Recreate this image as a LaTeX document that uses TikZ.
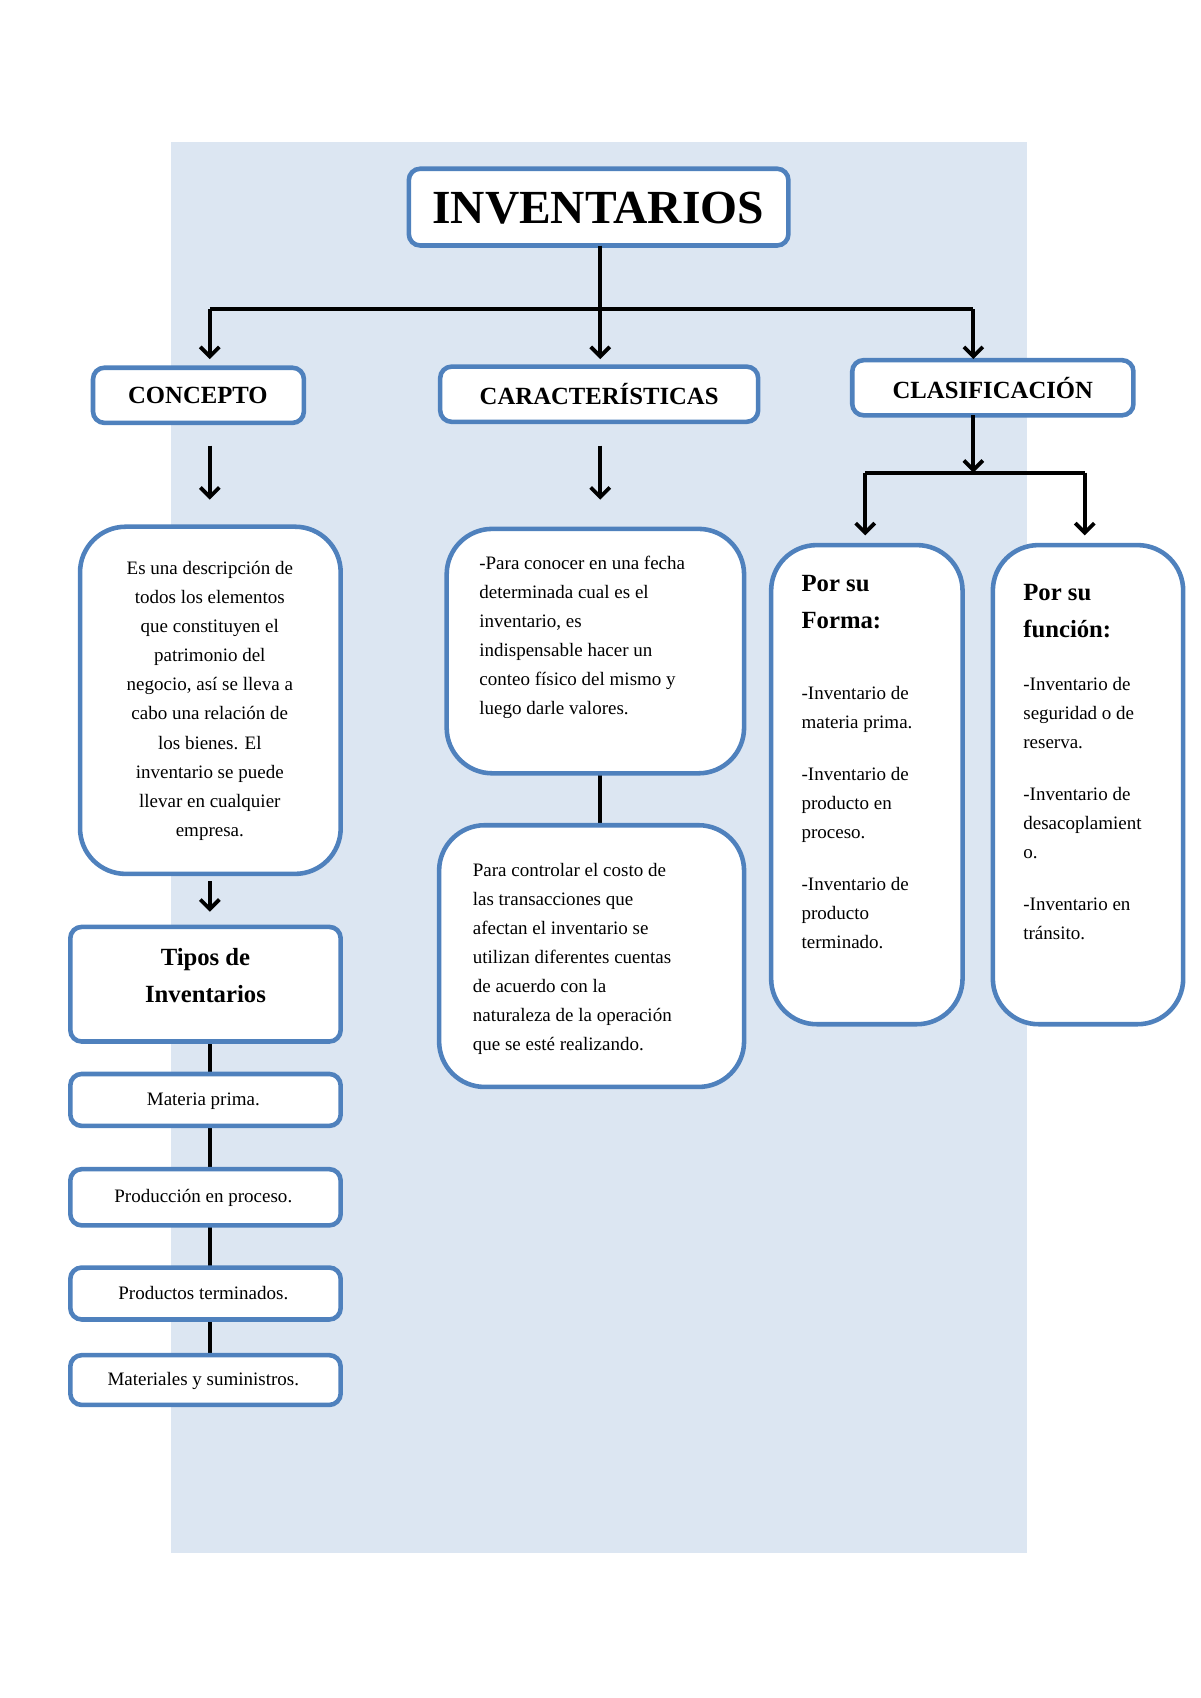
\documentclass[tikz,border=0pt]{standalone}
\usepackage{fontspec}
\setmainfont{Liberation Serif}
\usetikzlibrary{arrows.meta}
\definecolor{bx}{RGB}{79,129,189}
\definecolor{bgc}{RGB}{220,230,242}
\tikzset{
 bxs/.style={draw=bx,line width=2.4pt,fill=white,rounded corners=6pt},
 bigbx/.style={draw=bx,line width=2.4pt,fill=white,rounded corners=24pt},
 con/.style={line width=2.2pt,black},
 arr/.style={con,-{Straight Barb[length=5pt,width=10pt,line width=2pt]}},
 txt/.style={font=\fontsize{10}{15.3}\selectfont,align=left,anchor=north west},
}
\begin{document}
\begin{tikzpicture}[x=0.02cm,y=-0.02cm]
\useasboundingbox (0,0) rectangle (1110,1570);
\fill[bgc] (158,131) rectangle (950,1436);
% boxes
\draw[bxs] (378,156) rectangle (729,227);
\node (inv) at (553,192) {\fontsize{25}{28}\selectfont\bfseries INVENTARIOS};
\coordinate (invb) at (555,227);
\draw[bxs] (86,340) rectangle (281,391);
\node (con) at (183,366) {\fontsize{13}{15}\selectfont\bfseries CONCEPTO};
\draw[bxs] (407,339) rectangle (701,390);
\node (car) at (554,364) {\fontsize{13}{15}\selectfont\bfseries CARACTERÍSTICAS};
\draw[bxs] (788,333) rectangle (1048,384);
\node (cla) at (918,359) {\fontsize{13}{15}\selectfont\bfseries CLASIFICACIÓN};
% top connectors
\coordinate (j) at (555,286);
\coordinate (jl) at (194,286);
\coordinate (jr) at (900,286);
\coordinate (tl) at (194,332);
\coordinate (tm) at (555,332);
\coordinate (tr) at (900,332);
\draw[con] (invb) -- (j);
\draw[con] (jl) -- (jr);
\draw[arr] (j) -- (tm);
\draw[arr] (jl) -- (tl);
\draw[arr] (jr) -- (tr);
% second row arrows
\coordinate (a1) at (194,412); \coordinate (a1e) at (194,462);
\coordinate (a2) at (555,412); \coordinate (a2e) at (555,462);
\draw[arr] (a1) -- (a1e);
\draw[arr] (a2) -- (a2e);
\coordinate (c0) at (900,384); \coordinate (c1) at (900,437);
\coordinate (cl) at (800,437); \coordinate (cr) at (1003,437);
\coordinate (cle) at (800,495); \coordinate (cre) at (1003,495);
\draw[arr] (c0) -- (c1);
\draw[con] (cl) -- (cr);
\draw[arr] (cl) -- (cle);
\draw[arr] (cr) -- (cre);
% concept
\draw[bigbx] (74,487) rectangle (315,808);
\node (ct) at (194,648) [font=\fontsize{10}{15.3}\selectfont,align=center] {Es una descripción de\\todos los elementos\\que constituyen el\\patrimonio del\\negocio, así se lleva a\\cabo una relación de\\los bienes. El\\inventario se puede\\llevar en cualquier\\empresa.};
\coordinate (a3) at (194,815); \coordinate (a3e) at (194,843);
\draw[arr] (a3) -- (a3e);
% tipos chain
\coordinate (v1) at (194,963); \coordinate (v2) at (194,1253);
\draw[con] (v1) -- (v2);
\draw[bxs] (65,857) rectangle (315,963);
\node (tip) at (190,902) [font=\fontsize{13}{19}\selectfont\bfseries,align=center] {Tipos de\\Inventarios};
\draw[bxs] (65,993) rectangle (315,1041);
\node (m1) at (188,1018) [font=\fontsize{10}{12}\selectfont] {Materia prima.};
\draw[bxs] (65,1081) rectangle (315,1133);
\node (m2) at (188,1108) [font=\fontsize{10}{12}\selectfont] {Producción en proceso.};
\draw[bxs] (65,1172) rectangle (315,1220);
\node (m3) at (188,1196) [font=\fontsize{10}{12}\selectfont] {Productos terminados.};
\draw[bxs] (65,1253) rectangle (315,1299);
\node (m4) at (188,1277) [font=\fontsize{10}{12}\selectfont] {Materiales y suministros.};
% caracteristicas boxes
\coordinate (v3) at (555,715); \coordinate (v4) at (555,763);
\draw[con] (v3) -- (v4);
\draw[bigbx] (413,489) rectangle (688,715);
\node (k1) at (437,508) [txt] {-Para conocer en una fecha\\determinada cual es el\\inventario, es\\indispensable hacer un\\conteo físico del mismo y\\luego darle valores.};
\draw[bigbx] (406,763) rectangle (688,1005);
\node (k2) at (431,792) [txt] {Para controlar el costo de\\las transacciones que\\afectan el inventario se\\utilizan diferentes cuentas\\de acuerdo con la\\naturaleza de la operación\\que se esté realizando.};
% clasificacion boxes
\draw[bigbx] (713,504) rectangle (890,947);
\node (f1) at (735,526) [anchor=north west,align=left,font=\fontsize{13}{19.5}\selectfont\bfseries] {Por su\\Forma:};
\node (f2) at (735,628) [txt] {-Inventario de\\materia prima.\\[12pt]-Inventario de\\producto en\\proceso.\\[12pt]-Inventario de\\producto\\terminado.};
\draw[bigbx] (918,504) rectangle (1094,947);
\node (g1) at (940,534) [anchor=north west,align=left,font=\fontsize{13}{19.5}\selectfont\bfseries] {Por su\\función:};
\node (g2) at (940,620) [txt] {-Inventario de\\seguridad o de\\reserva.\\[12pt]-Inventario de\\desacoplamient\\o.\\[12pt]-Inventario en\\tránsito.};
\end{tikzpicture}
\end{document}
